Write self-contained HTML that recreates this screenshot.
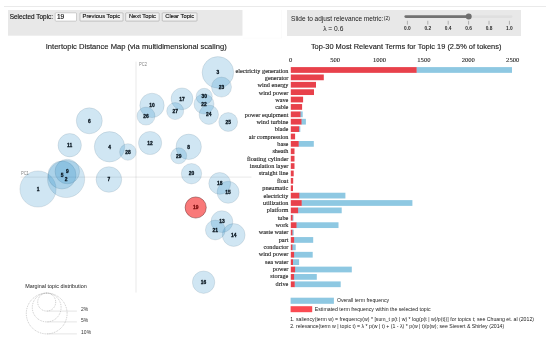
<!DOCTYPE html>
<html lang="en">
<head>
<meta charset="utf-8">
<title>pyLDAvis</title>
<style>
html,body{margin:0;padding:0;background:#fff;}
body{width:550px;height:338px;overflow:hidden;position:relative;font-family:"Liberation Sans",sans-serif;}
#top-rule{position:absolute;left:4px;top:6px;width:542px;height:1px;background:#eaeaea;}
.panel{position:absolute;background:#e8e8e8;}
#topic-panel{left:8px;top:10px;width:539px;height:58.8px;transform:scale(0.435);transform-origin:0 0;}
#lambda-panel{left:286.5px;top:10px;width:234.5px;height:25.6px;}
label.sel{position:absolute;left:4.4px;top:7.4px;font-size:15.6px;line-height:16px;color:#101010;-webkit-text-stroke:0.3px #101010;white-space:nowrap;transform:scaleX(0.945);transform-origin:0 0;}
input.topic{position:absolute;left:108px;top:5.6px;width:49.5px;height:20.8px;box-sizing:border-box;border:1.3px solid #9a9a9a;border-radius:2.5px;background:#fff;font:15px "Liberation Sans",sans-serif;color:#0c0c0c;-webkit-text-stroke:0.35px #0c0c0c;padding:0 0 1.6px 3.6px;margin:0;outline:none;}
button.tb{position:absolute;top:5.6px;height:20.8px;box-sizing:border-box;border:1.3px solid #8c8c8c;border-radius:2.2px;background:#f0f0f0;font:13.33px "Liberation Sans",sans-serif;color:#101010;-webkit-text-stroke:0.3px #101010;padding:0 0 1.5px 0;margin:0;line-height:16px;text-align:center;white-space:nowrap;}
svg{position:absolute;left:0;top:0;}
</style>
</head>
<body>
<div id="top-rule"></div>
<div class="panel" id="topic-panel">
<label class="sel" for="topic-input">Selected Topic:</label>
<input class="topic" id="topic-input" type="text" value="19">
<button class="tb" style="left:164.6px;width:100px">Previous Topic</button>
<button class="tb" style="left:270.1px;width:77.7px">Next Topic</button>
<button class="tb" style="left:353.8px;width:81.6px">Clear Topic</button>
</div>
<div class="panel" id="lambda-panel"></div>

<svg width="550" height="338" viewBox="0 0 550 338">
<g font-family='"Liberation Sans", sans-serif' fill="#1a1a1a">
<text x="291.1" y="20.8" font-size="6.8" textLength="92.3" lengthAdjust="spacingAndGlyphs">Slide to adjust relevance metric:</text>
<text x="383.7" y="19.5" font-size="4.8" textLength="6.3" lengthAdjust="spacingAndGlyphs">(2)</text>
<text x="323.2" y="31.3" font-size="6.8" textLength="20.2" lengthAdjust="spacingAndGlyphs">λ = 0.6</text>
</g>
<g>
<rect x="404.4" y="15.2" width="108" height="2.7" rx="1.35" fill="#dfdfdf"/>
<rect x="404.4" y="15.2" width="64" height="2.7" rx="1.35" fill="#727272"/>
<circle cx="468.7" cy="16.5" r="3" fill="#6e6e6e"/>
<line x1="407.4" y1="20.8" x2="407.4" y2="24.6" stroke="#666" stroke-width="0.45"/>
<text x="407.4" y="29.8" font-size="4.8" font-weight="bold" text-anchor="middle" font-family='"Liberation Sans", sans-serif' fill="#2a2a2a">0.0</text>
<line x1="427.8" y1="20.8" x2="427.8" y2="24.6" stroke="#666" stroke-width="0.45"/>
<text x="427.8" y="29.8" font-size="4.8" font-weight="bold" text-anchor="middle" font-family='"Liberation Sans", sans-serif' fill="#2a2a2a">0.2</text>
<line x1="448.2" y1="20.8" x2="448.2" y2="24.6" stroke="#666" stroke-width="0.45"/>
<text x="448.2" y="29.8" font-size="4.8" font-weight="bold" text-anchor="middle" font-family='"Liberation Sans", sans-serif' fill="#2a2a2a">0.4</text>
<line x1="468.6" y1="20.8" x2="468.6" y2="24.6" stroke="#666" stroke-width="0.45"/>
<text x="468.6" y="29.8" font-size="4.8" font-weight="bold" text-anchor="middle" font-family='"Liberation Sans", sans-serif' fill="#2a2a2a">0.6</text>
<line x1="489.0" y1="20.8" x2="489.0" y2="24.6" stroke="#666" stroke-width="0.45"/>
<text x="489.0" y="29.8" font-size="4.8" font-weight="bold" text-anchor="middle" font-family='"Liberation Sans", sans-serif' fill="#2a2a2a">0.8</text>
<line x1="509.4" y1="20.8" x2="509.4" y2="24.6" stroke="#666" stroke-width="0.45"/>
<text x="509.4" y="29.8" font-size="4.8" font-weight="bold" text-anchor="middle" font-family='"Liberation Sans", sans-serif' fill="#2a2a2a">1.0</text>
</g>
<path d="M243 38.2H281.6V10" fill="none" stroke="#f7f7f7" stroke-width="0.5"/>
<text x="45.7" y="48.6" font-size="7" textLength="181" lengthAdjust="spacingAndGlyphs" font-family='"Liberation Sans", sans-serif' fill="#1a1a1a" stroke="#1a1a1a" stroke-width="0.12">Intertopic Distance Map (via multidimensional scaling)</text>
<text x="310.9" y="48.6" font-size="7" textLength="190.5" lengthAdjust="spacingAndGlyphs" font-family='"Liberation Sans", sans-serif' fill="#1a1a1a" stroke="#1a1a1a" stroke-width="0.12">Top-30 Most Relevant Terms for Topic 19 (2.5% of tokens)</text>
<line x1="136" y1="61.6" x2="136" y2="292.6" stroke="#808080" stroke-opacity="0.33" stroke-width="0.5"/>
<line x1="20.5" y1="177.1" x2="251.5" y2="177.1" stroke="#808080" stroke-opacity="0.33" stroke-width="0.5"/>
<text x="139.1" y="65.9" font-size="5.2" textLength="8" lengthAdjust="spacingAndGlyphs" font-family='"Liberation Sans", sans-serif' fill="#858585">PC2</text>
<text x="20.9" y="175.2" font-size="5.2" textLength="8" lengthAdjust="spacingAndGlyphs" font-family='"Liberation Sans", sans-serif' fill="#858585">PC1</text>
<g>
<circle cx="38.0" cy="189.0" r="18.1" fill="#1f8ac8" fill-opacity="0.21" stroke="#0a2a40" stroke-opacity="0.22" stroke-width="0.45"/>
<circle cx="66.1" cy="179.0" r="18.6" fill="#1f8ac8" fill-opacity="0.21" stroke="#0a2a40" stroke-opacity="0.22" stroke-width="0.45"/>
<circle cx="217.9" cy="72.4" r="15.8" fill="#1f8ac8" fill-opacity="0.21" stroke="#0a2a40" stroke-opacity="0.22" stroke-width="0.45"/>
<circle cx="109.5" cy="146.8" r="15.2" fill="#1f8ac8" fill-opacity="0.21" stroke="#0a2a40" stroke-opacity="0.22" stroke-width="0.45"/>
<circle cx="62.0" cy="175.0" r="14.0" fill="#1f8ac8" fill-opacity="0.21" stroke="#0a2a40" stroke-opacity="0.22" stroke-width="0.45"/>
<circle cx="89.3" cy="120.8" r="13.0" fill="#1f8ac8" fill-opacity="0.21" stroke="#0a2a40" stroke-opacity="0.22" stroke-width="0.45"/>
<circle cx="108.9" cy="179.5" r="12.8" fill="#1f8ac8" fill-opacity="0.21" stroke="#0a2a40" stroke-opacity="0.22" stroke-width="0.45"/>
<circle cx="188.7" cy="146.8" r="12.7" fill="#1f8ac8" fill-opacity="0.21" stroke="#0a2a40" stroke-opacity="0.22" stroke-width="0.45"/>
<circle cx="67.3" cy="171.5" r="12.3" fill="#1f8ac8" fill-opacity="0.21" stroke="#0a2a40" stroke-opacity="0.22" stroke-width="0.45"/>
<circle cx="152.0" cy="105.4" r="12.2" fill="#1f8ac8" fill-opacity="0.21" stroke="#0a2a40" stroke-opacity="0.22" stroke-width="0.45"/>
<circle cx="69.7" cy="145.2" r="11.7" fill="#1f8ac8" fill-opacity="0.21" stroke="#0a2a40" stroke-opacity="0.22" stroke-width="0.45"/>
<circle cx="150.1" cy="143.0" r="11.6" fill="#1f8ac8" fill-opacity="0.21" stroke="#0a2a40" stroke-opacity="0.22" stroke-width="0.45"/>
<circle cx="221.9" cy="221.6" r="10.9" fill="#1f8ac8" fill-opacity="0.21" stroke="#0a2a40" stroke-opacity="0.22" stroke-width="0.45"/>
<circle cx="233.7" cy="235.0" r="11.4" fill="#1f8ac8" fill-opacity="0.21" stroke="#0a2a40" stroke-opacity="0.22" stroke-width="0.45"/>
<circle cx="228.1" cy="192.3" r="11.0" fill="#1f8ac8" fill-opacity="0.21" stroke="#0a2a40" stroke-opacity="0.22" stroke-width="0.45"/>
<circle cx="203.6" cy="282.2" r="11.2" fill="#1f8ac8" fill-opacity="0.21" stroke="#0a2a40" stroke-opacity="0.22" stroke-width="0.45"/>
<circle cx="182.0" cy="98.8" r="10.9" fill="#1f8ac8" fill-opacity="0.21" stroke="#0a2a40" stroke-opacity="0.22" stroke-width="0.45"/>
<circle cx="219.7" cy="183.4" r="10.9" fill="#1f8ac8" fill-opacity="0.21" stroke="#0a2a40" stroke-opacity="0.22" stroke-width="0.45"/>
<circle cx="195.7" cy="207.5" r="10.6" fill="#f52a2a" fill-opacity="0.63" stroke="#300" stroke-opacity="0.7" stroke-width="0.5"/>
<circle cx="191.5" cy="173.7" r="10.2" fill="#1f8ac8" fill-opacity="0.21" stroke="#0a2a40" stroke-opacity="0.22" stroke-width="0.45"/>
<circle cx="215.3" cy="230.0" r="9.9" fill="#1f8ac8" fill-opacity="0.21" stroke="#0a2a40" stroke-opacity="0.22" stroke-width="0.45"/>
<circle cx="204.0" cy="104.0" r="10.0" fill="#1f8ac8" fill-opacity="0.21" stroke="#0a2a40" stroke-opacity="0.22" stroke-width="0.45"/>
<circle cx="221.5" cy="87.1" r="10.0" fill="#1f8ac8" fill-opacity="0.21" stroke="#0a2a40" stroke-opacity="0.22" stroke-width="0.45"/>
<circle cx="208.8" cy="114.7" r="9.7" fill="#1f8ac8" fill-opacity="0.21" stroke="#0a2a40" stroke-opacity="0.22" stroke-width="0.45"/>
<circle cx="228.2" cy="122.0" r="9.4" fill="#1f8ac8" fill-opacity="0.21" stroke="#0a2a40" stroke-opacity="0.22" stroke-width="0.45"/>
<circle cx="146.0" cy="116.1" r="9.0" fill="#1f8ac8" fill-opacity="0.21" stroke="#0a2a40" stroke-opacity="0.22" stroke-width="0.45"/>
<circle cx="175.2" cy="111.1" r="8.5" fill="#1f8ac8" fill-opacity="0.21" stroke="#0a2a40" stroke-opacity="0.22" stroke-width="0.45"/>
<circle cx="127.9" cy="152.0" r="8.3" fill="#1f8ac8" fill-opacity="0.21" stroke="#0a2a40" stroke-opacity="0.22" stroke-width="0.45"/>
<circle cx="178.7" cy="155.8" r="8.0" fill="#1f8ac8" fill-opacity="0.21" stroke="#0a2a40" stroke-opacity="0.22" stroke-width="0.45"/>
<circle cx="204.2" cy="96.4" r="8.1" fill="#1f8ac8" fill-opacity="0.21" stroke="#0a2a40" stroke-opacity="0.22" stroke-width="0.45"/>
</g>
<g font-family='"Liberation Sans", sans-serif' font-size="4.9" font-weight="bold" text-anchor="middle" stroke-width="0.28">
<text x="38.0" y="190.75" fill="#07141e" stroke="#07141e">1</text>
<text x="66.1" y="180.75" fill="#07141e" stroke="#07141e">2</text>
<text x="217.9" y="74.15" fill="#07141e" stroke="#07141e">3</text>
<text x="109.5" y="148.55" fill="#07141e" stroke="#07141e">4</text>
<text x="62.0" y="176.75" fill="#07141e" stroke="#07141e">5</text>
<text x="89.3" y="122.55" fill="#07141e" stroke="#07141e">6</text>
<text x="108.9" y="181.25" fill="#07141e" stroke="#07141e">7</text>
<text x="188.7" y="148.55" fill="#07141e" stroke="#07141e">8</text>
<text x="67.3" y="173.25" fill="#07141e" stroke="#07141e">9</text>
<text x="152.0" y="107.15" fill="#07141e" stroke="#07141e">10</text>
<text x="69.7" y="146.95" fill="#07141e" stroke="#07141e">11</text>
<text x="150.1" y="144.75" fill="#07141e" stroke="#07141e">12</text>
<text x="221.9" y="223.35" fill="#07141e" stroke="#07141e">13</text>
<text x="233.7" y="236.75" fill="#07141e" stroke="#07141e">14</text>
<text x="228.1" y="194.05" fill="#07141e" stroke="#07141e">15</text>
<text x="203.6" y="283.95" fill="#07141e" stroke="#07141e">16</text>
<text x="182.0" y="100.55" fill="#07141e" stroke="#07141e">17</text>
<text x="219.7" y="185.15" fill="#07141e" stroke="#07141e">18</text>
<text x="195.7" y="209.25" fill="#7a0c0c" stroke="#7a0c0c">19</text>
<text x="191.5" y="175.45" fill="#07141e" stroke="#07141e">20</text>
<text x="215.3" y="231.75" fill="#07141e" stroke="#07141e">21</text>
<text x="204.0" y="105.75" fill="#07141e" stroke="#07141e">22</text>
<text x="221.5" y="88.85" fill="#07141e" stroke="#07141e">23</text>
<text x="208.8" y="116.45" fill="#07141e" stroke="#07141e">24</text>
<text x="228.2" y="123.75" fill="#07141e" stroke="#07141e">25</text>
<text x="146.0" y="117.85" fill="#07141e" stroke="#07141e">26</text>
<text x="175.2" y="112.85" fill="#07141e" stroke="#07141e">27</text>
<text x="127.9" y="153.75" fill="#07141e" stroke="#07141e">28</text>
<text x="178.7" y="157.55" fill="#07141e" stroke="#07141e">29</text>
<text x="204.2" y="98.15" fill="#07141e" stroke="#07141e">30</text>
</g>
<text x="25.2" y="288.1" font-size="5.2" textLength="61.7" lengthAdjust="spacingAndGlyphs" font-family='"Liberation Sans", sans-serif' fill="#222">Marginal topic distribution</text>
<circle cx="46.7" cy="302.1" r="9.0" fill="none" stroke="#888" stroke-width="0.45" stroke-dasharray="0.9 0.9"/>
<line x1="46.7" y1="311.1" x2="76.9" y2="311.1" stroke="#bdbdbd" stroke-width="0.4"/>
<text x="81.1" y="311.3" font-size="5" font-family='"Liberation Sans", sans-serif' fill="#333">2%</text>
<circle cx="46.7" cy="307.5" r="14.4" fill="none" stroke="#888" stroke-width="0.45" stroke-dasharray="0.9 0.9"/>
<line x1="46.7" y1="321.9" x2="76.9" y2="321.9" stroke="#bdbdbd" stroke-width="0.4"/>
<text x="81.1" y="322.1" font-size="5" font-family='"Liberation Sans", sans-serif' fill="#333">5%</text>
<circle cx="46.7" cy="313.5" r="20.4" fill="none" stroke="#888" stroke-width="0.45" stroke-dasharray="0.9 0.9"/>
<line x1="46.7" y1="333.9" x2="76.9" y2="333.9" stroke="#bdbdbd" stroke-width="0.4"/>
<text x="81.1" y="334.1" font-size="5" font-family='"Liberation Sans", sans-serif' fill="#333">10%</text>
<g>
<rect x="416.2" y="67.10" width="95.8" height="5.75" fill="#8ec8e2"/>
<rect x="290.8" y="67.10" width="125.8" height="5.75" fill="#e8414b"/>
<rect x="290.8" y="74.49" width="33.0" height="5.75" fill="#e8414b"/>
<rect x="290.8" y="81.88" width="25.2" height="5.75" fill="#e8414b"/>
<rect x="290.8" y="89.27" width="23.2" height="5.75" fill="#e8414b"/>
<rect x="290.8" y="96.66" width="12.3" height="5.75" fill="#e8414b"/>
<rect x="290.8" y="104.05" width="11.3" height="5.75" fill="#e8414b"/>
<rect x="300.1" y="111.44" width="2.6" height="5.75" fill="#8ec8e2"/>
<rect x="290.8" y="111.44" width="9.7" height="5.75" fill="#e8414b"/>
<rect x="301.1" y="118.83" width="4.8" height="5.75" fill="#8ec8e2"/>
<rect x="290.8" y="118.83" width="10.7" height="5.75" fill="#e8414b"/>
<rect x="298.7" y="126.22" width="1.6" height="5.75" fill="#8ec8e2"/>
<rect x="290.8" y="126.22" width="8.3" height="5.75" fill="#e8414b"/>
<rect x="290.8" y="133.61" width="4.3" height="5.75" fill="#e8414b"/>
<rect x="298.3" y="141.00" width="15.5" height="5.75" fill="#8ec8e2"/>
<rect x="290.8" y="141.00" width="7.9" height="5.75" fill="#e8414b"/>
<rect x="290.8" y="148.39" width="3.7" height="5.75" fill="#e8414b"/>
<rect x="290.8" y="155.78" width="3.7" height="5.75" fill="#e8414b"/>
<rect x="290.8" y="163.17" width="3.7" height="5.75" fill="#e8414b"/>
<rect x="290.8" y="170.56" width="2.9" height="5.75" fill="#e8414b"/>
<rect x="290.8" y="177.95" width="2.4" height="5.75" fill="#e8414b"/>
<rect x="290.8" y="185.34" width="2.2" height="5.75" fill="#e8414b"/>
<rect x="298.9" y="192.73" width="46.5" height="5.75" fill="#8ec8e2"/>
<rect x="290.8" y="192.73" width="8.5" height="5.75" fill="#e8414b"/>
<rect x="301.3" y="200.12" width="111.1" height="5.75" fill="#8ec8e2"/>
<rect x="290.8" y="200.12" width="10.9" height="5.75" fill="#e8414b"/>
<rect x="297.7" y="207.51" width="44.0" height="5.75" fill="#8ec8e2"/>
<rect x="290.8" y="207.51" width="7.3" height="5.75" fill="#e8414b"/>
<rect x="292.2" y="214.90" width="1.3" height="5.75" fill="#8ec8e2"/>
<rect x="290.8" y="214.90" width="1.8" height="5.75" fill="#e8414b"/>
<rect x="296.1" y="222.29" width="42.4" height="5.75" fill="#8ec8e2"/>
<rect x="290.8" y="222.29" width="5.7" height="5.75" fill="#e8414b"/>
<rect x="292.0" y="229.68" width="1.7" height="5.75" fill="#8ec8e2"/>
<rect x="290.8" y="229.68" width="1.6" height="5.75" fill="#e8414b"/>
<rect x="293.7" y="237.07" width="19.5" height="5.75" fill="#8ec8e2"/>
<rect x="290.8" y="237.07" width="3.3" height="5.75" fill="#e8414b"/>
<rect x="292.0" y="244.46" width="3.7" height="5.75" fill="#8ec8e2"/>
<rect x="290.8" y="244.46" width="1.6" height="5.75" fill="#e8414b"/>
<rect x="293.7" y="251.85" width="19.0" height="5.75" fill="#8ec8e2"/>
<rect x="290.8" y="251.85" width="3.3" height="5.75" fill="#e8414b"/>
<rect x="292.6" y="259.24" width="6.5" height="5.75" fill="#8ec8e2"/>
<rect x="290.8" y="259.24" width="2.2" height="5.75" fill="#e8414b"/>
<rect x="294.7" y="266.63" width="57.1" height="5.75" fill="#8ec8e2"/>
<rect x="290.8" y="266.63" width="4.3" height="5.75" fill="#e8414b"/>
<rect x="293.7" y="274.02" width="23.1" height="5.75" fill="#8ec8e2"/>
<rect x="290.8" y="274.02" width="3.3" height="5.75" fill="#e8414b"/>
<rect x="294.3" y="281.41" width="46.4" height="5.75" fill="#8ec8e2"/>
<rect x="290.8" y="281.41" width="3.9" height="5.75" fill="#e8414b"/>
</g>
<g font-family='"Liberation Serif", serif' font-size="6.25" text-anchor="end" fill="#1c1c1c" stroke="#1c1c1c" stroke-width="0.12">
<text x="288.4" y="72.50">electricity generation</text>
<text x="288.4" y="79.86">generator</text>
<text x="288.4" y="87.21">wind energy</text>
<text x="288.4" y="94.56">wind power</text>
<text x="288.4" y="101.92">wave</text>
<text x="288.4" y="109.28">cable</text>
<text x="288.4" y="116.63">power equipment</text>
<text x="288.4" y="123.98">wind turbine</text>
<text x="288.4" y="131.34">blade</text>
<text x="288.4" y="138.69">air compression</text>
<text x="288.4" y="146.05">base</text>
<text x="288.4" y="153.41">sheath</text>
<text x="288.4" y="160.76">floating cylinder</text>
<text x="288.4" y="168.12">insulation layer</text>
<text x="288.4" y="175.47">straight line</text>
<text x="288.4" y="182.82">float</text>
<text x="288.4" y="190.18">pneumatic</text>
<text x="288.4" y="197.54">electricity</text>
<text x="288.4" y="204.89">utilization</text>
<text x="288.4" y="212.25">platform</text>
<text x="288.4" y="219.60">tube</text>
<text x="288.4" y="226.96">work</text>
<text x="288.4" y="234.31">waste water</text>
<text x="288.4" y="241.67">part</text>
<text x="288.4" y="249.02">conductor</text>
<text x="288.4" y="256.38">wind power</text>
<text x="288.4" y="263.73">sea water</text>
<text x="288.4" y="271.09">power</text>
<text x="288.4" y="278.44">storage</text>
<text x="288.4" y="285.80">drive</text>
</g>
<g font-family='"Liberation Serif", serif' font-size="6.6" text-anchor="middle" fill="#222" stroke="#222" stroke-width="0.1">
<text x="290.7" y="61.7">0</text>
<text x="335.1" y="61.7">500</text>
<text x="379.5" y="61.7">1000</text>
<text x="423.9" y="61.7">1500</text>
<text x="468.3" y="61.7">2000</text>
<text x="512.7" y="61.7">2500</text>
</g>
<rect x="290.6" y="297.7" width="43.3" height="6.1" fill="#8ec8e2"/>
<rect x="290.6" y="306.2" width="21.6" height="6" fill="#fa4a52"/>
<g font-family='"Liberation Sans", sans-serif' font-size="5.2" fill="#222">
<text x="336.9" y="302.3" textLength="52.2" lengthAdjust="spacingAndGlyphs">Overall term frequency</text>
<text x="314.8" y="311" textLength="115.7" lengthAdjust="spacingAndGlyphs">Estimated term frequency within the selected topic</text>
<text x="290.2" y="320.6" font-size="5.4" textLength="243.8" lengthAdjust="spacingAndGlyphs">1. saliency(term w) = frequency(w) * [sum_t p(t | w) * log(p(t | w)/p(t))] for topics t; see Chuang et. al (2012)</text>
<text x="290.2" y="327.5" font-size="5.4" textLength="214" lengthAdjust="spacingAndGlyphs">2. relevance(term w | topic t) = λ * p(w | t) + (1 - λ) * p(w | t)/p(w); see Sievert &amp; Shirley (2014)</text>
</g>
</svg>
</body></html>
